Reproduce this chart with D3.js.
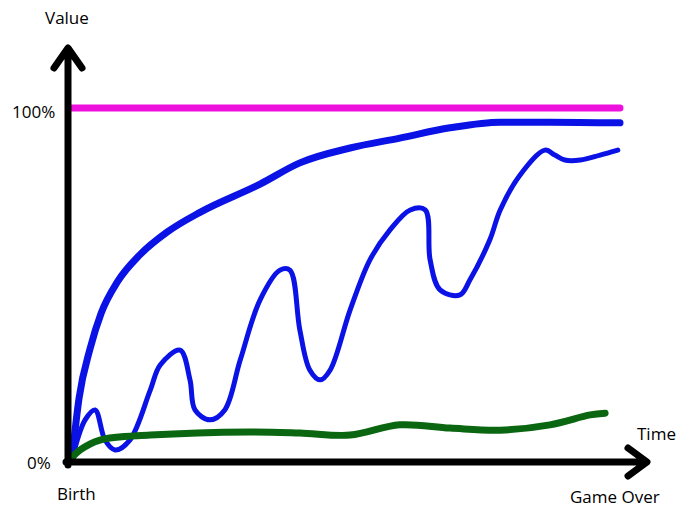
<!DOCTYPE html>
<html><head><meta charset="utf-8">
<script src="https://cdn.jsdelivr.net/npm/d3@7"></script>
<style>body{margin:0;background:#fff}text{font-family:"Comic Sans MS","Open Sans",sans-serif;font-size:17px;fill:#000}</style>
</head><body><svg id="c" width="700" height="525"></svg>
<script>
const topT=[0.7,2,4,6,9,13,18,24,34.8,42,51.1,60.1,69.2,78.3,87.3,100];
const topV=[0.6,18,32,42,51,58.5,65,70.6,78.5,84.5,88.7,91.5,94.4,96,96,95.8];
const waveT=[0.7,3.1,4.9,6.7,8.5,11.2,14.9,16.7,20.3,22.1,23,25.7,28.4,31.2,34.8,38.4,40.2,42,43.8,45.7,47.5,51.1,54.7,58.3,62,64.7,65.6,67.4,71,72.8,76.4,78.3,81.9,86.4,88.2,90,92.8,96.4,99.6];
const waveV=[0.6,11.9,14.7,6.2,3.4,6.2,20.3,27.4,31.6,23.2,14.7,11.9,14.7,28.8,45.8,54.2,54.2,37.3,26,23.2,26,42.9,57.1,65.5,71.2,71.2,57.1,48.6,47.2,51.4,62.7,71.2,81.1,88.1,86.7,85.3,85.3,86.7,88.1];
const lowT=[0,2.2,5.8,14.9,33,42,51.1,60.1,69.2,78.3,87.3,94.6,97.3];
const lowV=[0,3.4,6.2,7.6,8.5,8.2,7.6,10.5,9.6,9,10.5,13.3,13.8];
const maxT=[0.7,100], maxV=[100,100];
const svg=d3.select("#c");
const x=d3.scaleLinear().domain([0,100]).range([68,620]);
const y=d3.scaleLinear().domain([0,100]).range([462,108]);
const line=d3.line().x(d=>x(d[0])).y(d=>y(d[1])).curve(d3.curveCatmullRom);
function draw(T,V,c,w,cv){const l=cv?d3.line().x(d=>x(d[0])).y(d=>y(d[1])).curve(cv):line;svg.append("path").attr("d",l(T.map((t,i)=>[t,V[i]]))).attr("fill","none").attr("stroke",c).attr("stroke-width",w).attr("stroke-linecap","round").attr("stroke-linejoin","round");}
draw(maxT,maxV,"#ee11dd",7);
draw(topT,topV,"#0a12e6",7,d3.curveMonotoneX);
draw(waveT,waveV,"#0a12e6",5);
draw(lowT,lowV,"#0a6610",7);
svg.append("path").attr("d","M68,465 L68,50 M54,68 L68,48 L82,68").attr("fill","none").attr("stroke","#000").attr("stroke-width",7).attr("stroke-linecap","round").attr("stroke-linejoin","round");
svg.append("path").attr("d","M66,462 L645,462 M628,448 L647,462 L628,476").attr("fill","none").attr("stroke","#000").attr("stroke-width",7).attr("stroke-linecap","round").attr("stroke-linejoin","round");
svg.append("text").attr("x",45).attr("y",24).text("Value");
svg.append("text").attr("x",12).attr("y",118).text("100%");
svg.append("text").attr("x",27).attr("y",469).text("0%");
svg.append("text").attr("x",57).attr("y",500).text("Birth");
svg.append("text").attr("x",570).attr("y",503).text("Game Over");
svg.append("text").attr("x",637).attr("y",440).text("Time");
</script></body></html>
